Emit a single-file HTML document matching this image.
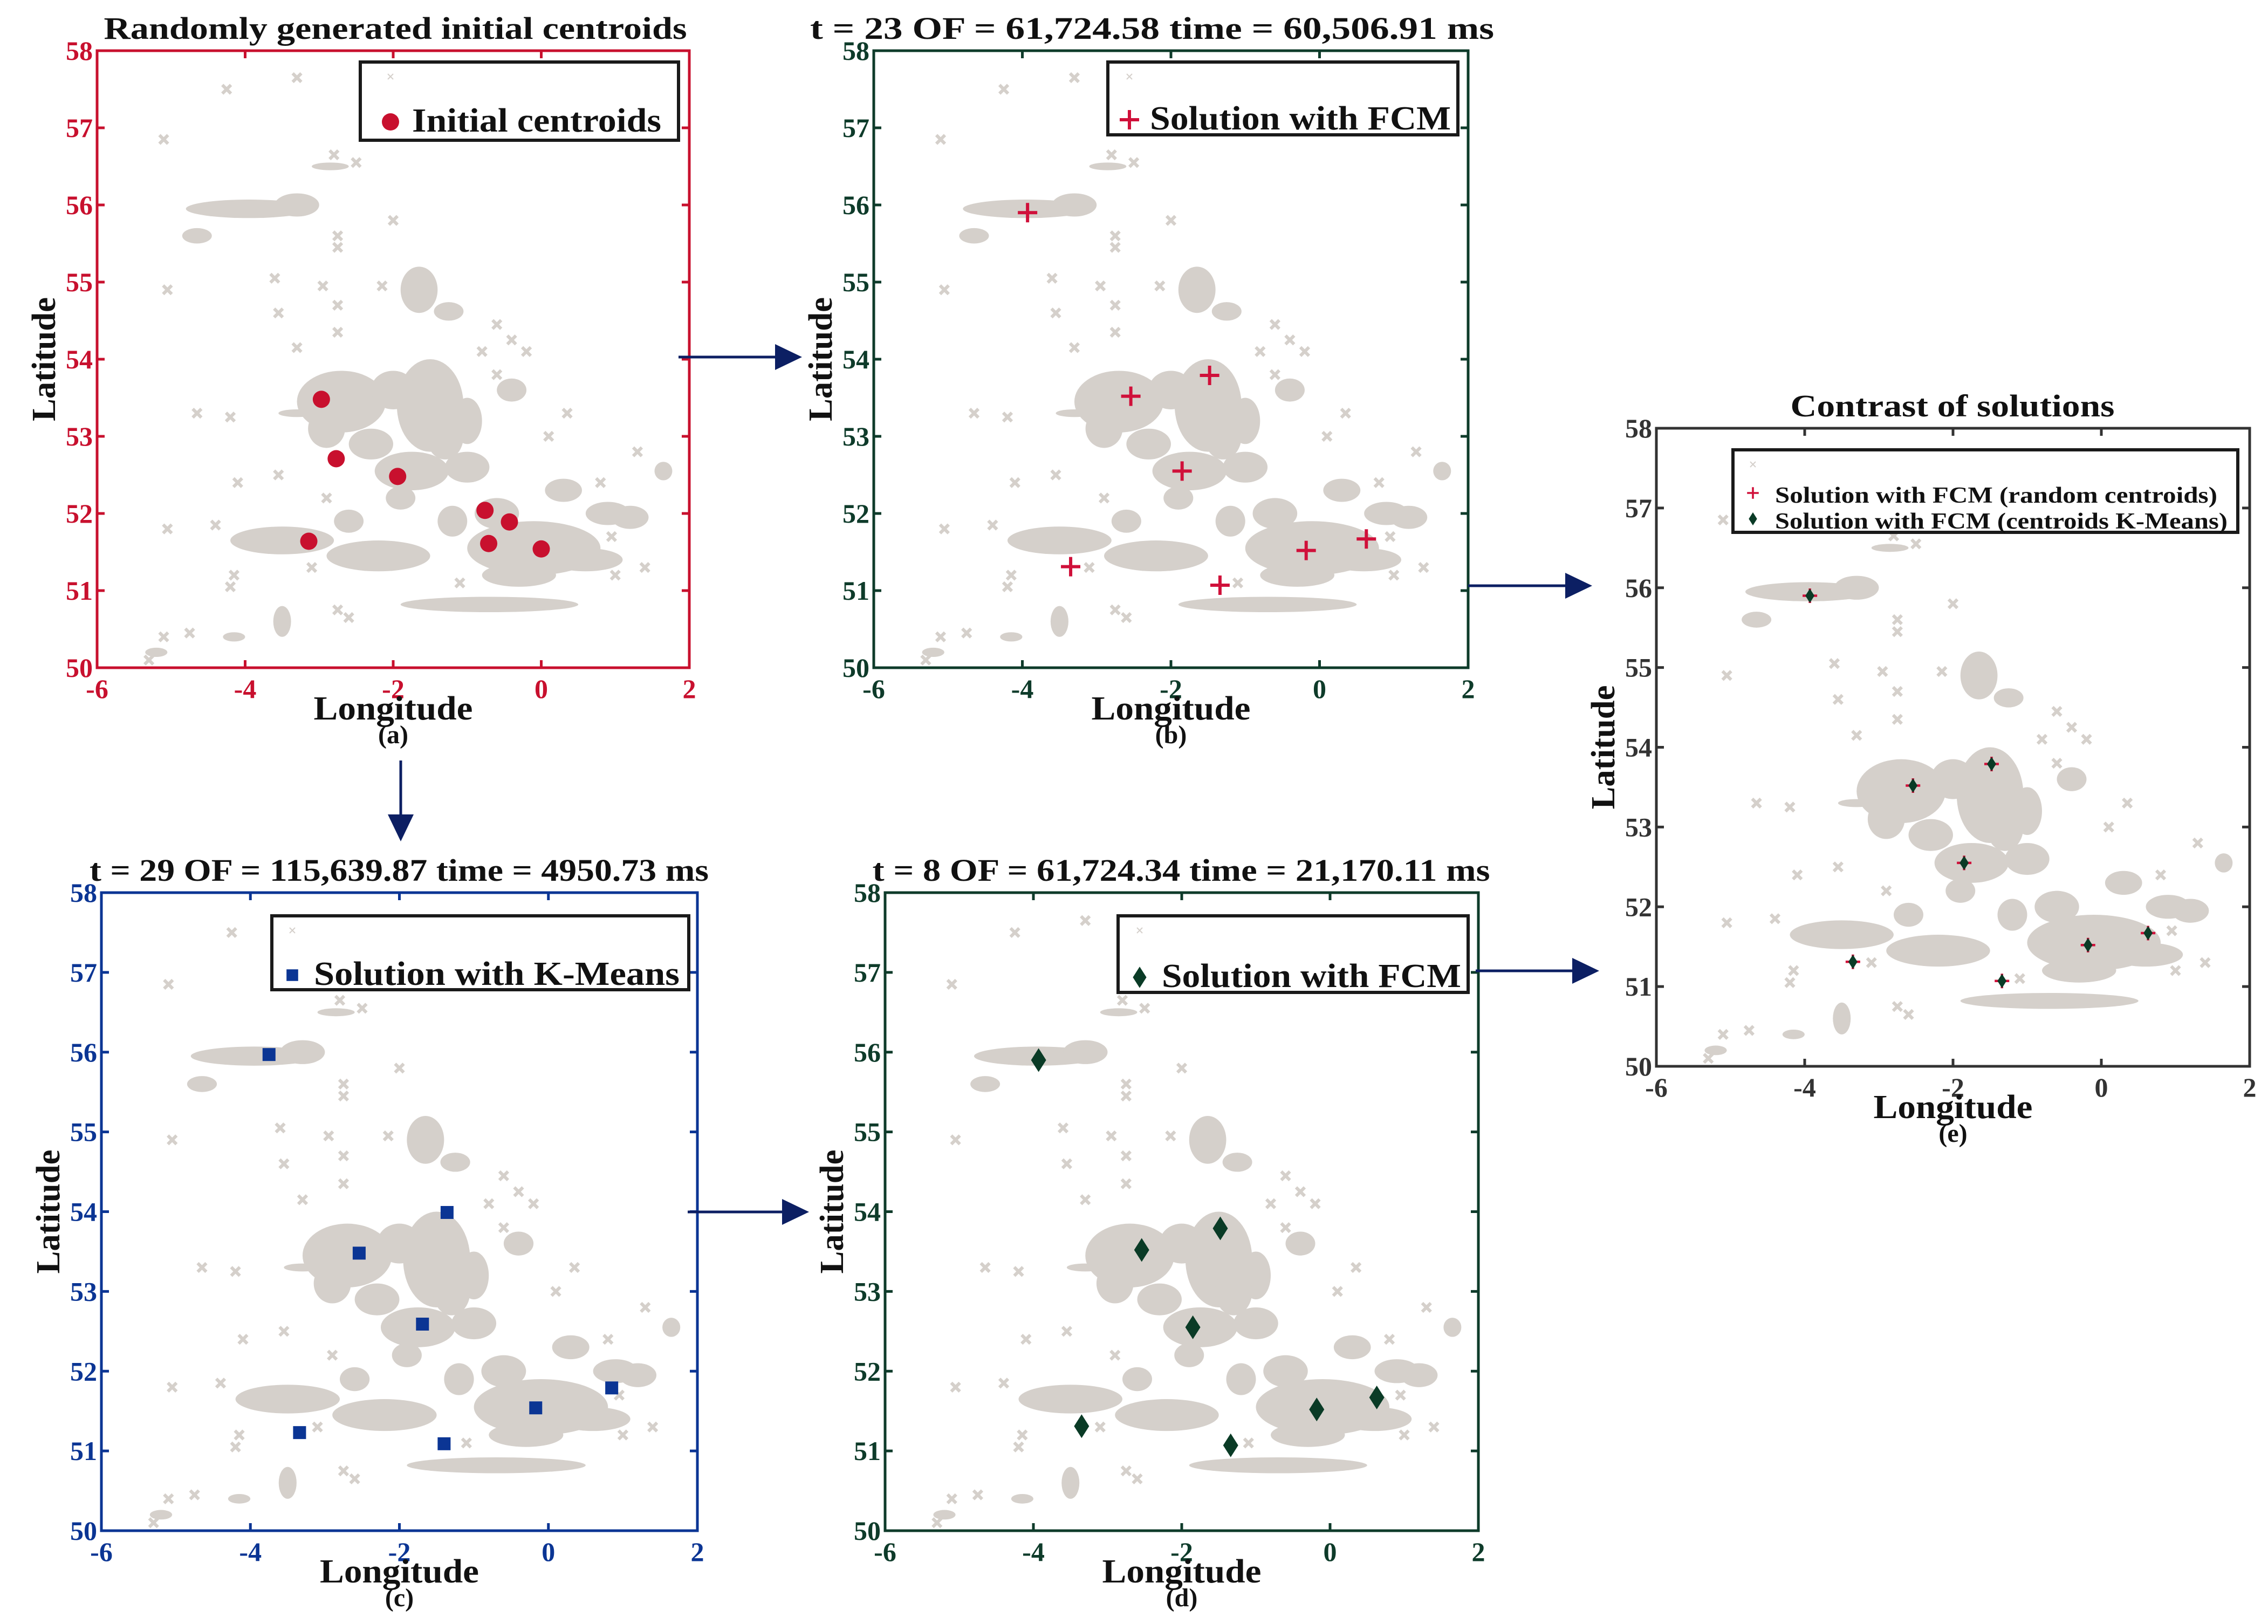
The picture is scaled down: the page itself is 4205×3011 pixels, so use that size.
<!DOCTYPE html>
<html><head><meta charset="utf-8"><style>
html,body{margin:0;padding:0;background:#fff}
svg{display:block}
text{font-family:"Liberation Serif",serif;font-weight:bold}
</style></head><body>
<svg id="fig" width="4205" height="3011" viewBox="0 0 4205 3011" xmlns="http://www.w3.org/2000/svg"></svg>
<script>
// ---- data ----
const xTicks = [-6, -4, -2, 0, 2];
const yTicks = [50, 51, 52, 53, 54, 55, 56, 57, 58];
// dense point regions: [lon, lat, halfWidthDeg, halfHeightDeg]
const blobLon = [-3.95,-4.65,-3.3,-2.85,-1.65,-1.25,-2.7,-1.5,-2.0,-1.75,-2.3,-3.5,-2.2,-0.1,-0.6,0.6,-0.7,1.2,1.65,-3.5,-4.15,-5.2,-1.0,-0.4,-1.0,0.9,-3.3,-2.6,-1.2,0.3,-2.9,-1.3,-0.3,-1.9];
const blobLat = [55.95,55.6,56.0,56.5,54.9,54.62,53.45,53.4,53.6,52.55,52.9,51.65,51.45,51.55,52.0,51.4,50.82,51.95,52.55,50.6,50.4,50.2,53.2,53.6,52.6,52.0,53.3,51.9,51.9,52.3,53.1,53.0,51.2,52.2];
const blobRx = [0.85,0.2,0.3,0.25,0.25,0.2,0.6,0.45,0.3,0.5,0.3,0.7,0.7,0.9,0.3,0.5,1.2,0.25,0.12,0.12,0.15,0.15,0.2,0.2,0.3,0.3,0.25,0.2,0.2,0.25,0.25,0.25,0.5,0.2];
const blobRy = [0.12,0.1,0.15,0.05,0.3,0.12,0.4,0.6,0.25,0.25,0.2,0.18,0.2,0.35,0.2,0.15,0.1,0.15,0.12,0.2,0.06,0.06,0.3,0.15,0.2,0.15,0.05,0.15,0.2,0.15,0.25,0.3,0.15,0.15];
const strayLon = [-4.25,-3.3,-5.1,-2.8,-2.5,-2.0,-2.75,-2.75,-5.05,-3.6,-2.95,-2.15,-3.55,-2.75,-2.75,-0.6,-0.4,-0.2,-3.3,-4.65,-4.2,-3.55,-4.1,-5.05,-4.4,-4.15,-4.2,-4.75,-5.1,-5.3,-2.75,-2.6,1.0,1.3,1.4,0.8,0.35,0.1,-0.6,-0.8,0.95,-1.1,-2.4,-3.1,-2.9];
const strayLat = [57.5,57.65,56.85,56.65,56.55,55.8,55.6,55.45,54.9,55.05,54.95,54.95,54.6,54.7,54.35,54.45,54.25,54.1,54.15,53.3,53.25,52.5,52.4,51.8,51.85,51.2,51.05,50.45,50.4,50.1,50.75,50.65,51.2,52.8,51.3,52.4,53.3,53.0,53.8,54.1,51.7,51.1,52.9,51.3,52.2];
const initLon = [-2.97,-2.77,-1.94,-0.76,-0.43,-0.71,0.0,-3.14];
const initLat = [53.48,52.71,52.48,52.04,51.89,51.61,51.54,51.64];
const fcmLon = [-3.93,-2.54,-1.48,-1.85,-3.35,-1.34,-0.18,0.63];
const fcmLat = [55.90,53.52,53.79,52.55,51.31,51.07,51.52,51.67];
const kmLon = [-3.75,-2.54,-1.36,-1.69,-3.34,-1.40,-0.17,0.85];
const kmLat = [55.97,53.48,53.99,52.59,51.23,51.09,51.54,51.79];

const NS = "http://www.w3.org/2000/svg";
const svg = document.getElementById('fig');
function mk(tag, attrs, parent) {
  const e = document.createElementNS(NS, tag);
  for (const k in attrs) e.setAttribute(k, attrs[k]);
  (parent || svg).appendChild(e);
  return e;
}
const GRAY = '#d5d0cb';

function marker(g, type, x, y, s) {
  let m;
  if (type === 'dot') m = mk('circle', {cx:x, cy:y, r:16*s, fill:'#c8102e'}, g);
  else if (type === 'plus') {
    m = mk('path', {d:`M${x-18*s},${y}H${x+18*s}M${x},${y-18*s}V${y+18*s}`, stroke:'#d0103a', 'stroke-width':6*s, fill:'none'}, g);
  } else if (type === 'square') m = mk('rect', {x:x-12*s, y:y-12*s, width:24*s, height:24*s, fill:'#0b3594'}, g);
  else if (type === 'diamond') m = mk('path', {d:`M${x},${y-22*s}L${x+14*s},${y}L${x},${y+22*s}L${x-14*s},${y}Z`, fill:'#0a3b26'}, g);
  return m;
}

function panel(o) {
  const g = mk('g', {});
  
  
  const W = o.x1 - o.x0, H = o.y1 - o.y0;
  const sx = v => o.x0 + (v + 6) / 8 * W;
  const sy = v => o.y1 - (v - 50) / 8 * H;
  const pts = mk('g', {fill:GRAY}, g);
  
  
  blobLon.forEach((lon, i) => {
    const e = mk('ellipse', {cx:sx(lon), cy:sy(blobLat[i]), rx:blobRx[i]/8*W, ry:blobRy[i]/8*H}, pts);
    
    
  });
  strayLon.forEach((lon, i) => {
    const x = sx(lon), y = sy(strayLat[i]);
    const e = mk('path', {d:`M${x-8},${y-8}L${x+8},${y+8}M${x+8},${y-8}L${x-8},${y+8}`, stroke:GRAY, 'stroke-width':6}, pts);
    
    
  });
  const box = mk('rect', {x:o.x0, y:o.y0, width:W, height:H, fill:'none', stroke:o.color, 'stroke-width':5}, g);
  
  
  xTicks.forEach(t => {
    const x = sx(t);
    mk('path', {d:`M${x},${o.y1}v-14M${x},${o.y0}v14`, stroke:o.color, 'stroke-width':5}, g);
    const tl = mk('text', {x:x, y:o.y1+56, 'text-anchor':'middle', 'font-size':50, fill:o.color}, g);
    tl.textContent = t;
    
    
  });
  yTicks.forEach(t => {
    const y = sy(t);
    mk('path', {d:`M${o.x0},${y}h14M${o.x1},${y}h-14`, stroke:o.color, 'stroke-width':5}, g);
    const tl = mk('text', {x:o.x0-8, y:y+17, 'text-anchor':'end', 'font-size':50, fill:o.color}, g);
    tl.textContent = t;
    
    
  });
  const xl = mk('text', {x:(o.x0+o.x1)/2, y:o.y1+96, 'text-anchor':'middle', 'font-size':62, fill:'#111', textLength:295, lengthAdjust:'spacingAndGlyphs'}, g);
  xl.textContent = 'Longitude';
  
  
  const sl = mk('text', {x:(o.x0+o.x1)/2, y:o.y1+140, 'text-anchor':'middle', 'font-size':48, fill:'#111'}, g);
  sl.textContent = o.sub;
  
  
  const yl = mk('text', {x:0, y:0, 'text-anchor':'middle', 'font-size':62, fill:'#111', textLength:230, lengthAdjust:'spacingAndGlyphs', transform:`translate(${o.x0-78},${sy(54)}) rotate(-90)`}, g);
  yl.textContent = 'Latitude';
  
  
  const tt = mk('text', {x:o.tx, y:o.y0-22, 'text-anchor':'middle', 'font-size':o.tfs||58, fill:'#111', textLength:o.tw, lengthAdjust:'spacingAndGlyphs'}, g);
  tt.textContent = o.title;
  
  
  o.series.forEach(s => {
    const sg = mk('g', {}, g);
    
    
    s.lon.forEach((lon, i) => {
      const m = marker(sg, s.type, sx(lon), sy(s.lat[i]), s.scale);
      
      
    });
  });
  const L = o.legend;
  const lg = mk('g', {}, g);
  
  
  mk('rect', {x:L.x, y:L.y, width:L.w, height:L.h, fill:'#fff', stroke:'#1a1a1a', 'stroke-width':6}, lg);
  mk('path', {d:`M${L.x+L.mx-5},${L.y+22}l10,10m0,-10l-10,10`, stroke:GRAY, 'stroke-width':2}, lg);
  L.items.forEach(it => {
    const m = marker(lg, it.type, L.x+L.mx, it.y-14, it.scale);
    
    
    const t = mk('text', {x:L.x+L.mx+L.gap, y:it.y+4, 'font-size':L.fs, fill:'#111', textLength:it.tw, lengthAdjust:'spacingAndGlyphs'}, lg);
    t.textContent = it.text;
    
    
  });
}

panel({name:'panel-a', x0:180, x1:1278, y0:94, y1:1238, color:'#c8102e', sub:'(a)', tx:733, tw:1081,
  title:'Randomly generated initial centroids',
  series:[{name:'initial-centroids', type:'dot', lon:initLon, lat:initLat, scale:1}],
  legend:{x:668, y:115, w:590, h:145, mx:56, gap:40, fs:62, items:[{type:'dot', y:240, text:'Initial centroids', scale:1, tw:462}]}});
panel({name:'panel-b', x0:1620, x1:2722, y0:94, y1:1238, color:'#0e3b2a', sub:'(b)', tx:2136, tw:1268,
  title:'t = 23  OF = 61,724.58   time = 60,506.91  ms',
  series:[{name:'fcm-solution', type:'plus', lon:fcmLon, lat:fcmLat, scale:1}],
  legend:{x:2054, y:115, w:649, h:135, mx:40, gap:38, fs:62, items:[{type:'plus', y:236, text:'Solution with FCM', scale:1, tw:558}]}});
panel({name:'panel-c', x0:188, x1:1293, y0:1655, y1:2838, color:'#0b3594', sub:'(c)', tx:740, tw:1148,
  title:'t = 29  OF = 115,639.87  time = 4950.73 ms',
  series:[{name:'kmeans-solution', type:'square', lon:kmLon, lat:kmLat, scale:1}],
  legend:{x:504, y:1698, w:773, h:137, mx:38, gap:40, fs:62, items:[{type:'square', y:1822, text:'Solution with K-Means', scale:0.9, tw:678}]}});
panel({name:'panel-d', x0:1641, x1:2741, y0:1655, y1:2838, color:'#0e3b2a', sub:'(d)', tx:2190, tw:1145,
  title:'t = 8  OF = 61,724.34   time = 21,170.11 ms',
  series:[{name:'fcm-kmeans-init-solution', type:'diamond', lon:fcmLon, lat:fcmLat, scale:1}],
  legend:{x:2073, y:1698, w:649, h:142, mx:40, gap:41, fs:62, items:[{type:'diamond', y:1826, text:'Solution with FCM', scale:0.9, tw:555}]}});
panel({name:'panel-e', x0:3071, x1:4171, y0:794, y1:1977, color:'#333', sub:'(e)', tx:3620, tw:601, tfs:58,
  title:'Contrast of solutions',
  series:[{name:'fcm-random', type:'plus', lon:fcmLon, lat:fcmLat, scale:0.75},
          {name:'fcm-kmeans', type:'diamond', lon:fcmLon, lat:fcmLat, scale:0.6}],
  legend:{x:3213, y:834, w:936, h:153, mx:37, gap:41, fs:42,
    items:[{type:'plus', y:928, text:'Solution with FCM (random centroids)', scale:0.6, tw:820},
           {type:'diamond', y:976, text:'Solution with FCM (centroids K-Means)', scale:0.55, tw:839}]}});

function arrow(name, x1, y1, x2, y2) {
  const g = mk('g', {});
  
  
  const dx = x2-x1, dy = y2-y1, len = Math.hypot(dx, dy), ux = dx/len, uy = dy/len;
  const bx = x2-ux*50, by = y2-uy*50;
  mk('line', {x1:x1, y1:y1, x2:bx, y2:by, stroke:'#0c1f63', 'stroke-width':5}, g);
  mk('path', {d:`M${x2},${y2}L${bx-uy*24},${by+ux*24}L${bx+uy*24},${by-ux*24}Z`, fill:'#0c1f63'}, g);
}
arrow('arrow-a-to-b', 1258, 662, 1487, 662);
arrow('arrow-a-to-c', 743, 1410, 743, 1560);
arrow('arrow-c-to-d', 1275, 2247, 1500, 2247);
arrow('arrow-b-to-e', 2722, 1086, 2952, 1086);
arrow('arrow-d-to-e', 2736, 1800, 2965, 1800);
</script>
</body></html>
